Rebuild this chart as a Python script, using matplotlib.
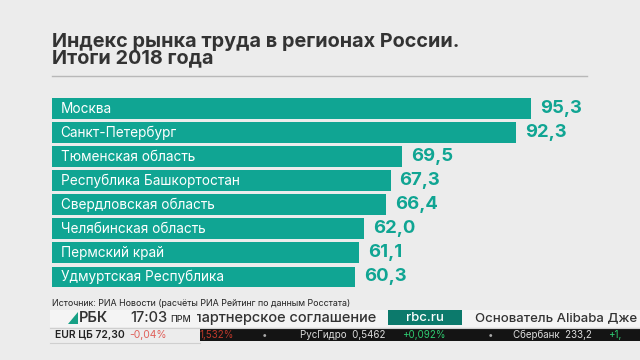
import matplotlib.pyplot as plt
from matplotlib.patches import Rectangle, Polygon
from matplotlib.transforms import Bbox

regions = ['Москва', 'Санкт-Петербург', 'Тюменская область', 'Республика Башкортостан',
           'Свердловская область', 'Челябинская область', 'Пермский край',
           'Удмуртская Республика']
values = [95.3, 92.3, 69.5, 67.3, 66.4, 62.0, 61.1, 60.3]

title = 'Индекс рынка труда в регионах России.\nИтоги 2018 года'
source = 'Источник: РИА Новости (расчёты РИА Рейтинг по данным Росстата)'

teal = '#10a593'
bg = '#ececec'

plt.rcParams['font.family'] = ['Inter', 'DejaVu Sans']

fig = plt.figure(figsize=(6.4, 3.6), dpi=100, facecolor=bg)
W, H = 640, 360

def fx(px):
    return px / W

def fy(py):
    return 1 - py / H

# chart area
ax = fig.add_axes([fx(52), fy(289), fx(548), (289 - 96.5) / H])
ax.set_facecolor(bg)
y = list(range(len(regions)))
ax.barh(y, values, height=0.87, color=teal)
for i, (name, v) in enumerate(zip(regions, values)):
    ax.text(1.7, i, name, color='white', fontsize=9.8, va='center', ha='left')
    ax.text(v + 1.8, i, f'{v:.1f}'.replace('.', ','), color=teal, fontsize=13.3,
            fontweight='bold', va='center', ha='left')
ax.set_xlim(0, 548 / 5.03)
ax.set_ylim(len(regions) - 0.5, -0.5)
ax.axis('off')

# title and rule
fig.text(fx(52), fy(33), title, fontsize=14.3, fontweight='bold', color='#333333',
         va='top', ha='left', linespacing=0.9)
fig.add_artist(plt.Line2D([fx(52), fx(587)], [fy(76), fy(76)], color='#b8b8b8', lw=1))

fig.text(fx(52), fy(303), source, fontsize=6.4, color='#222222', va='center', ha='left')

# TV ticker band
fig.add_artist(Rectangle((fx(50), fy(327)), fx(590), 17 / H, transform=fig.transFigure,
                         facecolor='#f4f4f4', edgecolor='none'))
fig.add_artist(plt.Line2D([fx(50), fx(640)], [fy(328), fy(328)], color='#cfcfcf', lw=0.8))
fig.add_artist(plt.Line2D([fx(50), fx(200)], [fy(343), fy(343)], color='#cfcfcf', lw=0.8))
fig.add_artist(Rectangle((fx(388), fy(325)), fx(74), 15 / H, transform=fig.transFigure,
                         facecolor='#0c7a6c', edgecolor='none'))
fig.add_artist(Rectangle((fx(200), fy(341)), fx(440), 13 / H, transform=fig.transFigure,
                         facecolor='#141414', edgecolor='none'))
fig.add_artist(Polygon([(fx(68), fy(324)), (fx(78), fy(312)), (fx(78), fy(324))],
                       closed=True, transform=fig.transFigure, facecolor='#16a085',
                       edgecolor='none'))
fig.text(fx(79), fy(318), 'РБК', fontsize=10.5, fontweight='semibold', color='#333333',
         va='center')
fig.text(fx(130), fy(318), '17:03', fontsize=10.5, fontweight='medium', color='#333333',
         va='center')
fig.text(fx(170), fy(319), 'ПРМ', fontsize=6.5, fontweight='medium', color='#333333',
         va='center')
t = fig.text(fx(193), fy(318), 'партнерское соглашение', fontsize=10.5, fontweight='medium',
             color='#333333', va='center')
t.set_clip_box(Bbox.from_extents(197, 0, 640, 360))
fig.text(fx(425), fy(318), 'rbc.ru', fontsize=9.5, fontweight='medium', color='white',
         va='center', ha='center')
fig.text(fx(475), fy(318), 'Основатель Alibaba Дже', fontsize=9.5, fontweight='medium',
         color='#333333', va='center')
fig.text(fx(55), fy(335), 'EUR ЦБ 72,30', fontsize=7.5, fontweight='semibold',
         color='#222222', va='center')
fig.text(fx(129), fy(335), '-0,04%', fontsize=7.5, color='#e0605a', va='center')
t = fig.text(fx(199), fy(335), '1,532%', fontsize=7, color='#c0392b', va='center')
t.set_clip_box(Bbox.from_extents(200, 0, 640, 360))
fig.text(fx(262), fy(335), '•', fontsize=7, color='#aaaaaa', va='center')
fig.text(fx(300), fy(335), 'РусГидро  0,5462', fontsize=7, color='#dddddd', va='center')
fig.text(fx(402), fy(335), '+0,092%', fontsize=7, color='#2ecc71', va='center')
fig.text(fx(488), fy(335), '•', fontsize=7, color='#aaaaaa', va='center')
fig.text(fx(513), fy(335), 'Сбербанк  233,2', fontsize=7, color='#dddddd', va='center')
fig.text(fx(608), fy(335), '+1,', fontsize=7, color='#2ecc71', va='center')

fig.savefig('out.png', dpi=100, facecolor=bg)
